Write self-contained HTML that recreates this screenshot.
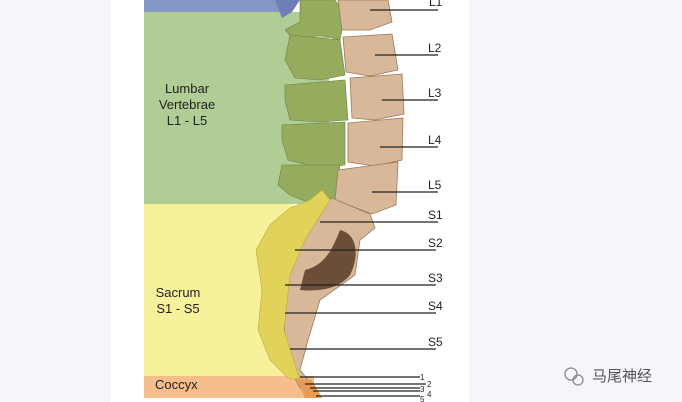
<!DOCTYPE html>
<html><head><meta charset="utf-8"><style>
html,body{margin:0;padding:0;width:682px;height:402px;overflow:hidden;background:#f4f6f9;}
svg{display:block}
text{font-family:"Liberation Sans",sans-serif;}
</style></head><body>
<svg width="682" height="402" viewBox="0 0 682 402" xmlns="http://www.w3.org/2000/svg">
<rect x="111" y="0" width="358" height="402" fill="#ffffff"/>
<rect x="144" y="0" width="140" height="12" fill="#8497c7"/>
<rect x="144" y="12" width="185" height="192" fill="#b0cd95"/>
<rect x="144" y="204" width="150" height="172" fill="#f8f19c"/>
<rect x="144" y="376" width="170" height="22" fill="#f6be8c"/>
<path d="M275,0 L300,0 L292,12 L282,18 Z" fill="#6e7fb8"/>
<!-- green processes -->
<g fill="#95ac5e" stroke="#6c7f3a" stroke-width="0.6">
<path d="M300,0 L335,0 L345,15 L340,40 L320,35 L295,40 L285,30 L300,22 Z"/>
<path d="M290,35 L340,40 L345,75 L320,80 L295,78 L285,60 Z"/>
<path d="M285,85 L345,80 L348,120 L320,122 L290,120 L285,100 Z"/>
<path d="M282,125 L345,122 L345,165 L320,168 L288,160 L282,140 Z"/>
<path d="M282,165 L340,165 L335,200 L315,205 L290,195 L278,185 Z"/>
</g>
<!-- vertebral bodies -->
<g fill="#d8b898" stroke="#9a7a5a" stroke-width="0.8">
<path d="M338,0 L388,0 L392,22 L370,30 L342,30 Z"/>
<path d="M343,37 L392,34 L398,70 L370,76 L346,72 Z"/>
<path d="M350,78 L402,74 L404,114 L375,120 L352,118 Z"/>
<path d="M348,123 L403,118 L402,160 L375,166 L348,162 Z"/>
<path d="M338,170 L398,162 L396,205 L372,214 L335,200 Z"/>
<path d="M332,198 L370,214 L375,228 L360,240 L355,275 L320,300 L308,340 L300,370 L312,385 L300,388 L285,360 L284,300 L290,260 L305,230 L320,205 Z"/>
</g>
<path d="M340,230 C360,235 358,260 350,275 C340,288 320,292 300,290 L305,270 C325,265 332,250 340,230 Z" fill="#6b4e38"/>
<path d="M322,190 L330,200 L305,240 L290,275 L284,330 L300,380 L288,378 L270,360 L258,330 L262,290 L256,250 L270,225 L290,208 L310,200 Z" fill="#e1d35a" stroke="#b8a93a" stroke-width="0.6"/>
<path d="M296,378 L312,380 L322,398 L305,398 Z" fill="#e89b55"/>
<g stroke="#222" stroke-width="1.2">
<line x1="370" y1="10" x2="438" y2="10"/>
<line x1="375" y1="55" x2="438" y2="55"/>
<line x1="382" y1="100" x2="438" y2="100"/>
<line x1="380" y1="147" x2="438" y2="147"/>
<line x1="372" y1="192" x2="438" y2="192"/>
<line x1="320" y1="222" x2="438" y2="222"/>
<line x1="295" y1="250" x2="436" y2="250"/>
<line x1="285" y1="285" x2="436" y2="285"/>
<line x1="285" y1="313" x2="436" y2="313"/>
<line x1="290" y1="349" x2="436" y2="349"/>
<line x1="300" y1="377" x2="420" y2="377"/>
<line x1="305" y1="384" x2="426" y2="384"/>
<line x1="310" y1="388" x2="420" y2="388"/>
<line x1="313" y1="391" x2="420" y2="391"/>
<line x1="316" y1="396" x2="420" y2="396"/>
</g>
<g font-size="12" fill="#222">
<text x="429" y="6">L1</text>
<text x="428" y="52">L2</text>
<text x="428" y="97">L3</text>
<text x="428" y="144">L4</text>
<text x="428" y="189">L5</text>
<text x="428" y="219">S1</text>
<text x="428" y="247">S2</text>
<text x="428" y="282">S3</text>
<text x="428" y="310">S4</text>
<text x="428" y="346">S5</text>
</g>
<g font-size="8" fill="#222">
<text x="420" y="380">1</text>
<text x="427" y="387">2</text>
<text x="420" y="392">3</text>
<text x="427" y="397">4</text>
<text x="420" y="402">5</text>
</g>
<g font-size="13" fill="#222" text-anchor="middle">
<text x="187" y="93">Lumbar</text>
<text x="187" y="109">Vertebrae</text>
<text x="187" y="125">L1 - L5</text>
<text x="178" y="297">Sacrum</text>
<text x="178" y="313">S1 - S5</text>
</g>
<text x="155" y="389" font-size="13" fill="#222">Coccyx</text>
<g fill="none" stroke="#888" stroke-width="1.3">
<circle cx="571" cy="374" r="6"/><circle cx="578" cy="380" r="5"/>
</g>
<text x="592" y="381" font-size="15" fill="#555" font-family="'Liberation Sans','Noto Sans CJK SC',sans-serif">马尾神经</text>
</svg>
</body></html>
